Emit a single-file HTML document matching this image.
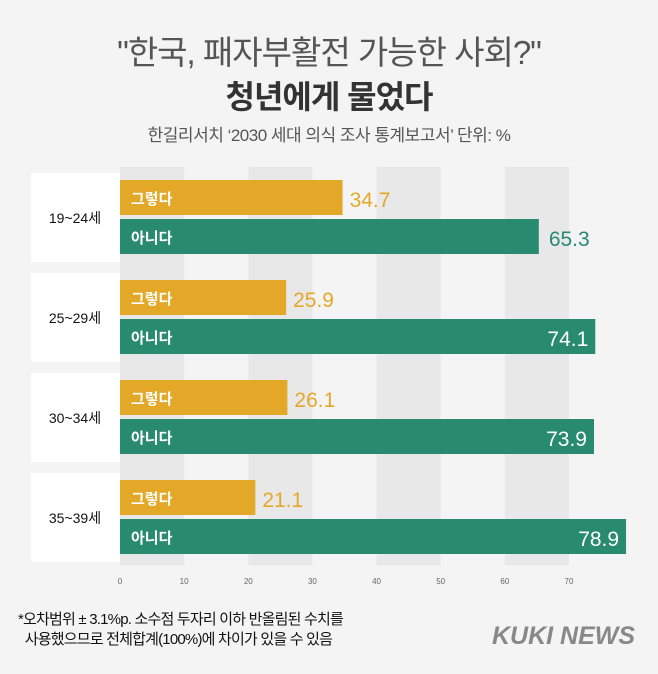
<!DOCTYPE html>
<html><head><meta charset="utf-8"><style>
body{margin:0;width:658px;height:674px;background:#f3f4f3;font-family:"Liberation Sans","Noto Sans CJK KR",sans-serif;overflow:hidden;position:relative}
.t{position:absolute;left:0;width:658px;text-align:center;white-space:nowrap}
</style></head><body>
<div class="t" style="top:26px;font-size:33px;color:#555;letter-spacing:-1px">"한국, 패자부활전 가능한 사회?"</div>
<div class="t" style="top:72px;font-size:32px;color:#333;font-weight:bold;letter-spacing:-1px">청년에게 물었다</div>
<div class="t" style="top:121px;font-size:17px;color:#555;letter-spacing:-0.5px">한길리서치 ‘2030 세대 의식 조사 통계보고서’ 단위: %</div>
<svg id="c" width="658" height="674" style="position:absolute;left:0;top:0"></svg>
<div style="position:absolute;left:18px;top:610px;font-size:15px;color:#111;line-height:20px;letter-spacing:-0.8px">*오차범위 ± 3.1%p. 소수점 두자리 이하 반올림된 수치를<br>&nbsp;&nbsp;사용했으므로 전체합계(100%)에 차이가 있을 수 있음</div>
<div style="position:absolute;left:492px;top:622px;font-size:25px;font-weight:bold;font-style:italic;color:#888;letter-spacing:0px">KUKI NEWS</div>
<script>
const groups=["19~24세","25~29세","30~34세","35~39세"];
const yes=[34.7,25.9,26.1,21.1];
const no=[65.3,74.1,73.9,78.9];
const ticks=[0,10,20,30,40,50,60,70];
const svg=document.getElementById('c');const NS='http://www.w3.org/2000/svg';
const x=v=>120+v*6.414;
const gy=i=>180+i*100;
function el(t,a,txt){const e=document.createElementNS(NS,t);for(const k in a)e.setAttribute(k,a[k]);if(txt!=null)e.textContent=txt;svg.appendChild(e);return e;}
for(let i=0;i<ticks.length-1;i+=2){const r=el('rect',{x:x(ticks[i]),y:167,width:x(ticks[i+1])-x(ticks[i]),height:398,fill:'#e8e8e8'});

}
ticks.forEach(t=>{const e=el('text',{x:x(t),y:584,'font-size':8,fill:'#666','text-anchor':'middle'},t);

});
groups.forEach((g,i)=>{const y=gy(i);
const b=el('rect',{x:31,y:y-7,width:89,height:89,fill:'#fff'});


const gl=el('text',{x:75,y:y+43,'font-size':14,fill:'#111','text-anchor':'middle'},g);


const by=el('rect',{x:120,y:y,width:x(yes[i])-120,height:35,fill:'#e4a829'});


const ly=el('text',{x:131,y:y+24,'font-size':15,fill:'#fff','font-weight':'bold'},'그렇다');


const vy=el('text',{x:x(yes[i])+7,y:y+27,'font-size':21,fill:'#e4a829'},yes[i].toFixed(1));


const ny=y+39;
const bn=el('rect',{x:120,y:ny,width:x(no[i])-120,height:35,fill:'#288a6e'});


const ln=el('text',{x:131,y:ny+24,'font-size':15,fill:'#fff','font-weight':'bold'},'아니다');


const inside=no[i]>70;
const vn=el('text',{x:inside?x(no[i])-7:x(no[i])+10,y:ny+27,'font-size':21,fill:inside?'#fff':'#288a6e','text-anchor':inside?'end':'start'},no[i].toFixed(1));


});
</script>
</body></html>
